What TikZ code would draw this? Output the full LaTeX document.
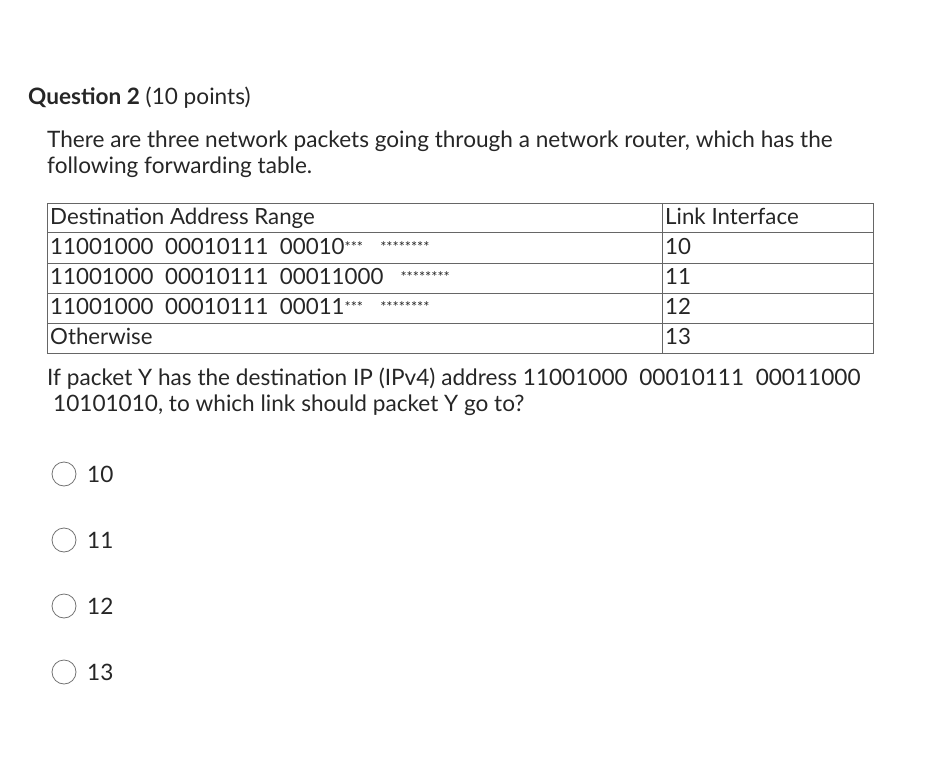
\documentclass[tikz,border=0pt]{standalone}
\usepackage{fontspec}
\setmainfont{Lato}
\begin{document}
\begin{tikzpicture}[x=1pt,y=-1pt,
  txt/.style={anchor=base west,inner sep=0pt,font=\fontsize{22.6}{26}\selectfont,text=black!85},
  cell/.style={anchor=base west,inner sep=0pt,font=\fontsize{22.3}{26}\selectfont,text=black!85},
  radio/.style={circle,draw=black!55,line width=0.8pt,minimum size=24pt,inner sep=0pt}]
\useasboundingbox (0,0) rectangle (925,762);
\newcommand{\stx}{{\fontsize{14.5}{14}\selectfont\raisebox{2pt}{***}}}
\newcommand{\sty}{{\fontsize{14.5}{14}\selectfont\raisebox{2pt}{********}}}
\node[txt] (q) at (28,105) {\textbf{Question 2} (10 points)};
\node[txt] (l1) at (47,148) {There are three network packets going through a network router, which has the};
\node[txt] (l2) at (47,173) {following forwarding table.};
% table
\draw[black!60,line width=0.8pt] (47,203) rectangle (873,353);
\foreach \y in {232,263,293,323} \draw[black!60,line width=0.8pt] (47,\y) -- (873,\y);
\draw[black!60,line width=0.8pt] (662,203) -- (662,353);
\node[cell] (h1) at (50,224) {Destination Address Range};
\node[cell] (h2) at (665,224) {Link Interface};
\node[cell] (r1) at (50,254) {11001000\ \ 00010111\ \ 00010\stx\ \ \ \sty};
\node[cell] (r1b) at (665,254) {10};
\node[cell] (r2) at (50,284) {11001000\ \ 00010111\ \ 00011000\ \ \ \sty};
\node[cell] (r2b) at (665,284) {11};
\node[cell] (r3) at (50,314) {11001000\ \ 00010111\ \ 00011\stx\ \ \ \sty};
\node[cell] (r3b) at (665,314) {12};
\node[cell] (r4) at (50,344) {Otherwise};
\node[cell] (r4b) at (665,344) {13};
\node[txt] (p1) at (47,385) {If packet Y has the destination IP (IPv4) address 11001000\ \ 00010111\ \ 00011000};
\node[txt] (p2) at (53,411) {10101010, to which link should packet Y go to?};
\foreach \y/\t [count=\i] in {474/10,540/11,606/12,672/13}{
  \node[radio] (c\i) at (64,\y) {};
  \node[txt,anchor=west] (o\i) at (87,\y) {\t};
}
\end{tikzpicture}
\end{document}
